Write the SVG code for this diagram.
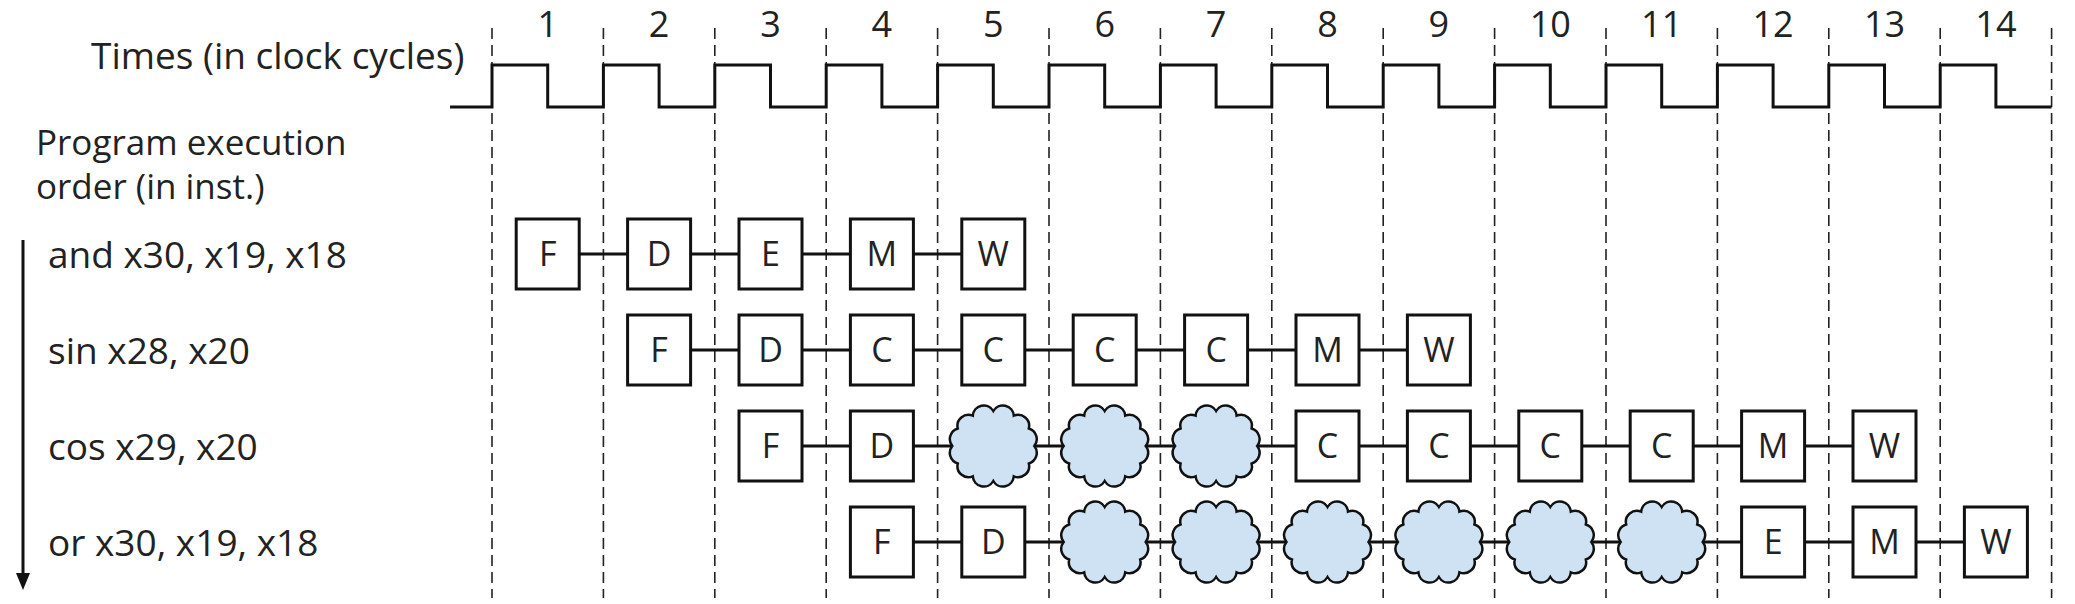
<svg xmlns="http://www.w3.org/2000/svg" xmlns:xlink="http://www.w3.org/1999/xlink" width="2075" height="604" viewBox="0 0 2075 604">
<style>
text{font-family:"Open Sans","Noto Sans","Liberation Sans",sans-serif;fill:#222;}
.lbl{font-size:37px;}
.lbl2{font-size:35px;}
.num{font-size:36px;text-anchor:middle;}
.st{font-size:34px;text-anchor:middle;}
.box{fill:#fff;stroke:#111;stroke-width:3;}
.cl{fill:#cfe2f3;stroke:#111;stroke-width:2.5;}
.dash{stroke:#222;stroke-width:1.6;stroke-dasharray:11,6;fill:none;}
.wire{stroke:#111;stroke-width:3;fill:none;}
</style>
<defs>
<path id="cloud" class="cl" d="M41,0 A11,11 0 0 1 35.5,17.5 A11,11 0 0 1 20.5,30.3 A11,11 0 0 1 0,35 A11,11 0 0 1 -20.5,30.3 A11,11 0 0 1 -35.5,17.5 A11,11 0 0 1 -41,0 A11,11 0 0 1 -35.5,-17.5 A11,11 0 0 1 -20.5,-30.3 A11,11 0 0 1 0,-35 A11,11 0 0 1 20.5,-30.3 A11,11 0 0 1 35.5,-17.5 A11,11 0 0 1 41,0 Z"/>
</defs>
<rect width="2075" height="604" fill="#fff"/>
<g id="labels">
<text class="lbl" x="91" y="69">Times (in clock cycles)</text>
<text class="lbl2" x="36" y="155">Program execution</text>
<text class="lbl2" x="36" y="199">order (in inst.)</text>
<text class="lbl" x="48" y="268">and x30, x19, x18</text>
<text class="lbl" x="48" y="364">sin x28, x20</text>
<text class="lbl" x="48" y="460">cos x29, x20</text>
<text class="lbl" x="48" y="556">or x30, x19, x18</text>
</g>
<g id="numbers">
<text class="num" x="547.7" y="37">1</text><text class="num" x="659.1" y="37">2</text><text class="num" x="770.5" y="37">3</text><text class="num" x="881.9" y="37">4</text><text class="num" x="993.3" y="37">5</text><text class="num" x="1104.7" y="37">6</text><text class="num" x="1216.1" y="37">7</text><text class="num" x="1327.5" y="37">8</text><text class="num" x="1438.9" y="37">9</text><text class="num" x="1550.3" y="37">10</text><text class="num" x="1661.7" y="37">11</text><text class="num" x="1773.1" y="37">12</text><text class="num" x="1884.5" y="37">13</text><text class="num" x="1995.9" y="37">14</text>
</g>
<g id="grid">
<path class="dash" d="M492,28V598M603.4,28V598M714.8,28V598M826.2,28V598M937.6,28V598M1049,28V598M1160.4,28V598M1271.8,28V598M1383.2,28V598M1494.6,28V598M1606,28V598M1717.4,28V598M1828.8,28V598M1940.2,28V598M2051.6,28V598"/>
</g>
<g id="clock">
<path class="wire" d="M450,107H492V65H547.7V107H603.4V65H659.1V107H714.8V65H770.5V107H826.2V65H881.9V107H937.6V65H993.3V107H1049V65H1104.7V107H1160.4V65H1216.1V107H1271.8V65H1327.5V107H1383.2V65H1438.9V107H1494.6V65H1550.3V107H1606V65H1661.7V107H1717.4V65H1773.1V107H1828.8V65H1884.5V107H1940.2V65H1995.9V107H2051.6"/>
</g>
<g id="connectors">
<line class="wire" x1="23" y1="240" x2="23" y2="575"/>
<path d="M16,573 L30,573 L23,590 Z" fill="#111"/>
<line class="wire" x1="547.7" y1="254" x2="993.3" y2="254"/>
<line class="wire" x1="659.1" y1="350" x2="1438.9" y2="350"/>
<line class="wire" x1="770.5" y1="446" x2="1884.5" y2="446"/>
<line class="wire" x1="881.9" y1="542" x2="1995.9" y2="542"/>
</g>
<g id="row1">
<g id="r1-F"><rect class="box" x="516.2" y="219" width="63" height="70"/><text class="st" x="547.7" y="266">F</text></g>
<g id="r1-D"><rect class="box" x="627.6" y="219" width="63" height="70"/><text class="st" x="659.1" y="266">D</text></g>
<g id="r1-E"><rect class="box" x="739" y="219" width="63" height="70"/><text class="st" x="770.5" y="266">E</text></g>
<g id="r1-M"><rect class="box" x="850.4" y="219" width="63" height="70"/><text class="st" x="881.9" y="266">M</text></g>
<g id="r1-W"><rect class="box" x="961.8" y="219" width="63" height="70"/><text class="st" x="993.3" y="266">W</text></g>
</g>
<g id="row2">
<g id="r2-F"><rect class="box" x="627.6" y="315" width="63" height="70"/><text class="st" x="659.1" y="362">F</text></g>
<g id="r2-D"><rect class="box" x="739" y="315" width="63" height="70"/><text class="st" x="770.5" y="362">D</text></g>
<g id="r2-C1"><rect class="box" x="850.4" y="315" width="63" height="70"/><text class="st" x="881.9" y="362">C</text></g>
<g id="r2-C2"><rect class="box" x="961.8" y="315" width="63" height="70"/><text class="st" x="993.3" y="362">C</text></g>
<g id="r2-C3"><rect class="box" x="1073.2" y="315" width="63" height="70"/><text class="st" x="1104.7" y="362">C</text></g>
<g id="r2-C4"><rect class="box" x="1184.6" y="315" width="63" height="70"/><text class="st" x="1216.1" y="362">C</text></g>
<g id="r2-M"><rect class="box" x="1296" y="315" width="63" height="70"/><text class="st" x="1327.5" y="362">M</text></g>
<g id="r2-W"><rect class="box" x="1407.4" y="315" width="63" height="70"/><text class="st" x="1438.9" y="362">W</text></g>
</g>
<g id="row3">
<g id="r3-F"><rect class="box" x="739" y="411" width="63" height="70"/><text class="st" x="770.5" y="458">F</text></g>
<g id="r3-D"><rect class="box" x="850.4" y="411" width="63" height="70"/><text class="st" x="881.9" y="458">D</text></g>
<g id="r3-S1"><use xlink:href="#cloud" x="993.3" y="446"/></g>
<g id="r3-S2"><use xlink:href="#cloud" x="1104.7" y="446"/></g>
<g id="r3-S3"><use xlink:href="#cloud" x="1216.1" y="446"/></g>
<g id="r3-C1"><rect class="box" x="1296" y="411" width="63" height="70"/><text class="st" x="1327.5" y="458">C</text></g>
<g id="r3-C2"><rect class="box" x="1407.4" y="411" width="63" height="70"/><text class="st" x="1438.9" y="458">C</text></g>
<g id="r3-C3"><rect class="box" x="1518.8" y="411" width="63" height="70"/><text class="st" x="1550.3" y="458">C</text></g>
<g id="r3-C4"><rect class="box" x="1630.2" y="411" width="63" height="70"/><text class="st" x="1661.7" y="458">C</text></g>
<g id="r3-M"><rect class="box" x="1741.6" y="411" width="63" height="70"/><text class="st" x="1773.1" y="458">M</text></g>
<g id="r3-W"><rect class="box" x="1853" y="411" width="63" height="70"/><text class="st" x="1884.5" y="458">W</text></g>
</g>
<g id="row4">
<g id="r4-F"><rect class="box" x="850.4" y="507" width="63" height="70"/><text class="st" x="881.9" y="554">F</text></g>
<g id="r4-D"><rect class="box" x="961.8" y="507" width="63" height="70"/><text class="st" x="993.3" y="554">D</text></g>
<g id="r4-S1"><use xlink:href="#cloud" x="1104.7" y="542"/></g>
<g id="r4-S2"><use xlink:href="#cloud" x="1216.1" y="542"/></g>
<g id="r4-S3"><use xlink:href="#cloud" x="1327.5" y="542"/></g>
<g id="r4-S4"><use xlink:href="#cloud" x="1438.9" y="542"/></g>
<g id="r4-S5"><use xlink:href="#cloud" x="1550.3" y="542"/></g>
<g id="r4-S6"><use xlink:href="#cloud" x="1661.7" y="542"/></g>
<g id="r4-E"><rect class="box" x="1741.6" y="507" width="63" height="70"/><text class="st" x="1773.1" y="554">E</text></g>
<g id="r4-M"><rect class="box" x="1853" y="507" width="63" height="70"/><text class="st" x="1884.5" y="554">M</text></g>
<g id="r4-W"><rect class="box" x="1964.4" y="507" width="63" height="70"/><text class="st" x="1995.9" y="554">W</text></g>
</g>
</svg>
